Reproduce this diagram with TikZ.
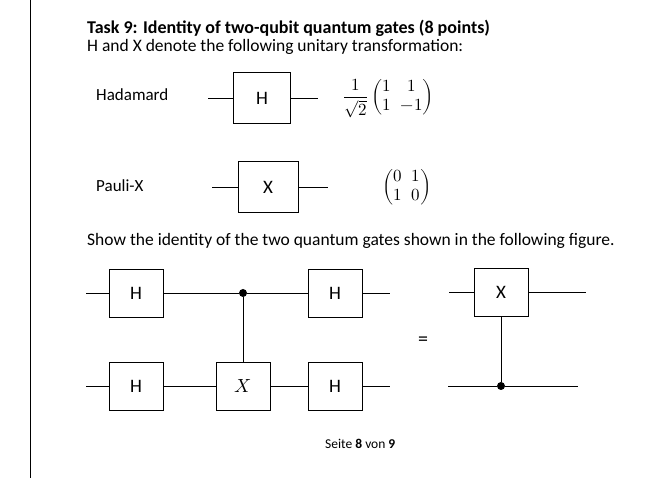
\documentclass[tikz,border=0pt]{standalone}
\usepackage{amsmath}
\usepackage{unicode-math}
\setmainfont{Carlito}
\setmathfont{Latin Modern Math}
\begin{document}
\begin{tikzpicture}[x=1pt,y=-1pt,
  gate/.style={draw,thick,minimum width=54pt,minimum height=48pt,inner sep=0pt,font=\fontsize{19}{21}\selectfont},
  wire/.style={draw,line width=0.6pt},
  dot/.style={circle,fill,inner sep=0pt,minimum size=8pt},
  txt/.style={anchor=west,inner sep=0pt,font=\fontsize{17}{19}\selectfont}]
\useasboundingbox (0,0) rectangle (665,478);
\draw[thick] (30,0) -- (30,478);
\node[txt,font=\fontsize{18}{20}\selectfont\bfseries] (title) at (87,28) {Task 9: Identity of two-qubit quantum gates (8 points)};
\node[txt,font=\fontsize{17.5}{20}\selectfont] (l2) at (87,47) {H and X denote the following unitary transformation:};
% Hadamard
\node[txt] (had) at (96,95) {Hadamard};
\node[gate,minimum width=57pt,minimum height=51pt] (hg) at (262,98) {H};
\coordinate (h1) at (208,98); \coordinate (h2) at (318,98);
\draw[wire] (h1) -- (hg.west) (hg.east) -- (h2);
\node[anchor=west,inner sep=0pt,font=\fontsize{17}{19}\selectfont] (hm) at (343,98) {$\displaystyle\frac{1}{\sqrt2}\begin{pmatrix}1&1\\1&-1\end{pmatrix}$};
% Pauli-X
\node[txt] (pau) at (96,186) {Pauli-X};
\node[gate,minimum width=60pt,minimum height=51pt] (xg) at (268,187) {X};
\coordinate (x1) at (212,187); \coordinate (x2) at (328,187);
\draw[wire] (x1) -- (xg.west) (xg.east) -- (x2);
\node[anchor=west,inner sep=0pt,font=\fontsize{17}{19}\selectfont] (xm) at (382,187) {$\begin{pmatrix}0&1\\1&0\end{pmatrix}$};
\node[txt,font=\fontsize{17.5}{20}\selectfont] (show) at (87,241) {Show the identity of the two quantum gates shown in the following figure.};
% circuit
\node[gate] (a1) at (136,293) {H};
\node[gate] (a2) at (136,386) {H};
\node[gate] (cx) at (243,386) {$X$};
\node[gate] (b1) at (335,293) {H};
\node[gate] (b2) at (335,386) {H};
\node[dot] (c) at (243,293) {};
\coordinate (t0) at (86,293); \coordinate (t1) at (390,293);
\coordinate (u0) at (86,386); \coordinate (u1) at (390,386);
\draw[wire] (t0) -- (a1.west) (a1.east) -- (c) -- (b1.west) (b1.east) -- (t1);
\draw[wire] (u0) -- (a2.west) (a2.east) -- (cx.west) (cx.east) -- (b2.west) (b2.east) -- (u1);
\draw[wire] (c) -- (cx.north);
\node[font=\fontsize{20}{22}\selectfont] (eq) at (423,341) {=};
\node[gate] (rx) at (501,292) {X};
\node[dot] (rc) at (501,386) {};
\coordinate (r0) at (449,292); \coordinate (r1) at (586,292);
\coordinate (s0) at (448,386); \coordinate (s1) at (578,386);
\draw[wire] (r0) -- (rx.west) (rx.east) -- (r1);
\draw[wire] (s0) -- (rc) -- (s1);
\draw[wire] (rx.south) -- (rc);
\node[txt,font=\fontsize{13.5}{15}\selectfont] (pg) at (325,444) {Seite \textbf{8} von \textbf{9}};
\end{tikzpicture}
\end{document}
